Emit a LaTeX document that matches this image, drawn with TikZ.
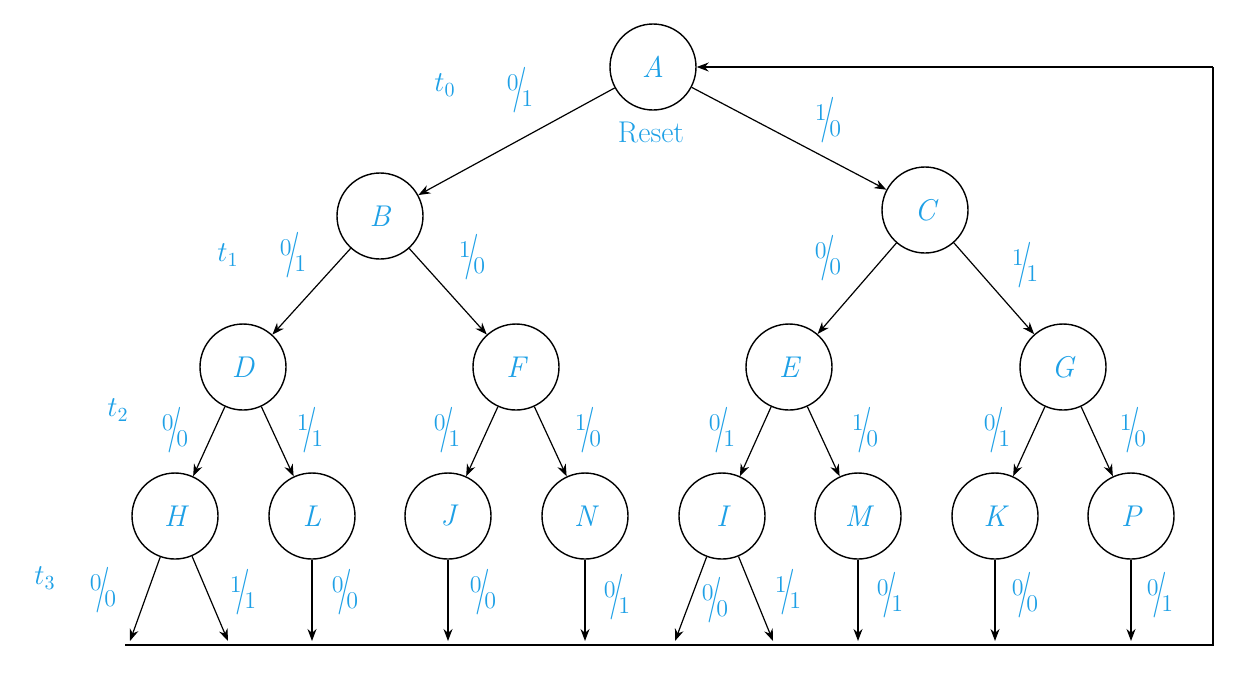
\documentclass[tikz,border=0pt]{standalone}
\usetikzlibrary{arrows.meta}
\definecolor{lc}{RGB}{30,160,230}
\newcommand\myfr[2]{\raisebox{.75ex}{#1}\kern-.25em\raisebox{-.35ex}{\scalebox{1.25}[1.9]{/}}\kern-.25em\raisebox{-.85ex}{#2}}
\begin{document}
\begin{tikzpicture}[x=0.5pt,y=-0.5pt,
  st/.style={circle,draw,line width=0.7pt,minimum size=43pt,inner sep=0pt,text=lc,font=\fontsize{15}{18}\selectfont\itshape},
  ar/.style={-{Stealth[length=6pt,width=4.5pt]},line width=0.6pt},
  lb/.style={text=lc,font=\fontsize{12}{14}\selectfont},
  tl/.style={text=lc,font=\fontsize{14}{16}\selectfont}]
\useasboundingbox (0,0) rectangle (1236,682);
\node[st] (A) at (653,67) {A};
\node[st] (B) at (380,216) {B};
\node[st] (C) at (925,210) {C};
\node[st] (D) at (243,367) {D};
\node[st] (F) at (516,367) {F};
\node[st] (E) at (789,367) {E};
\node[st] (G) at (1063,367) {G};
\node[st] (H) at (175,516) {H};
\node[st] (L) at (312,516) {L};
\node[st] (J) at (448,516) {J};
\node[st] (N) at (585,516) {N};
\node[st] (I) at (722,516) {I};
\node[st] (M) at (858,516) {M};
\node[st] (K) at (995,516) {K};
\node[st] (P) at (1131,516) {P};
\node[text=lc,font=\fontsize{15}{18}\selectfont] (rs) at (651,132) {Reset};
\draw[ar] (A)--(B); \draw[ar] (A)--(C);
\draw[ar] (B)--(D); \draw[ar] (B)--(F);
\draw[ar] (C)--(E); \draw[ar] (C)--(G);
\draw[ar] (D)--(H); \draw[ar] (D)--(L);
\draw[ar] (F)--(J); \draw[ar] (F)--(N);
\draw[ar] (E)--(I); \draw[ar] (E)--(M);
\draw[ar] (G)--(K); \draw[ar] (G)--(P);
\foreach \n/\x in {h1/130,h2/228,l1/312,j1/448,n1/585,i1/675,i2/773,m1/858,k1/995,p1/1131}
  \coordinate (\n) at (\x,641);
\draw[ar] (H)--(h1); \draw[ar] (H)--(h2); \draw[ar] (L)--(l1); \draw[ar] (J)--(j1);
\draw[ar] (N)--(n1); \draw[ar] (I)--(i1); \draw[ar] (I)--(i2); \draw[ar] (M)--(m1);
\draw[ar] (K)--(k1); \draw[ar] (P)--(p1);
\coordinate (bl) at (125,645); \coordinate (br) at (1213,645); \coordinate (tr) at (1213,67);
\draw[line width=0.6pt] (bl)--(br)--(tr);
\draw[ar] (tr)--(A);
\node[tl] at (445,85) {$t_0$};
\node[tl] at (228,255) {$t_1$};
\node[tl] at (118,410) {$t_2$};
\node[tl] at (45,578) {$t_3$};
\foreach \x/\y/\a/\b in {520/90/0/1, 828/120/1/0, 293/255/0/1, 472/257/1/0, 828/258/0/0, 1025/265/1/1,
 175/430/0/0, 310/430/1/1, 447/430/0/1, 588/430/1/0, 722/430/0/1, 865/430/1/0, 997/430/0/1, 1133/430/1/0,
 103/590/0/0, 243/592/1/1, 345/592/0/0, 483/592/0/0, 617/597/0/1, 715/600/0/0, 788/592/1/1, 890/595/0/1, 1025/595/0/0, 1160/595/0/1}
  \node[lb] at (\x,\y) {\myfr{\a}{\b}};
\end{tikzpicture}
\end{document}
